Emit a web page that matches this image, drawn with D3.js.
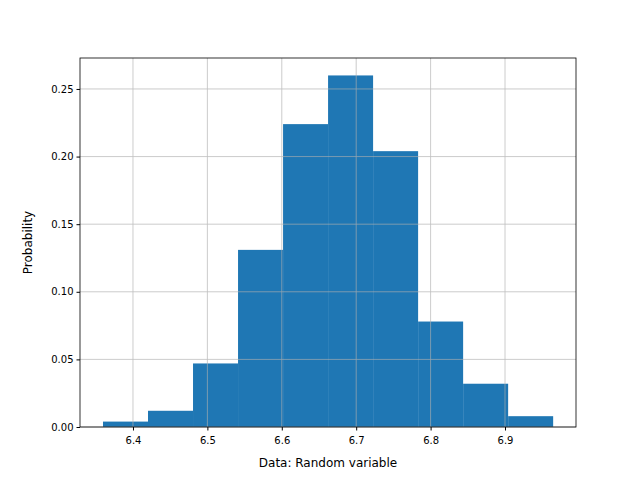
<!DOCTYPE html>
<html><head><meta charset="utf-8">
<script src="https://cdn.jsdelivr.net/npm/d3@7"></script>
<style>body{margin:0;background:#fff}text{font-family:"DejaVu Sans",sans-serif}</style>
</head><body>
<script>
// histogram data
const binStart = 6.3597;
const binWidth = 0.0605;
const probs = [0.004, 0.012, 0.047, 0.131, 0.224, 0.260, 0.204, 0.078, 0.032, 0.008];
const xTicks = [6.4, 6.5, 6.6, 6.7, 6.8, 6.9];
const yTicks = [0, 0.05, 0.10, 0.15, 0.20, 0.25];

const W = 640, H = 480;
const m = {l: 80, r: 576, t: 58, b: 427};

const svg = d3.select("body").append("svg").attr("width", W).attr("height", H);
const x = d3.scaleLinear().domain([6.3288, 6.9954]).range([m.l, m.r]);
const y = d3.scaleLinear().domain([0, 0.2729]).range([m.b, m.t]);

svg.append("g").selectAll("rect").data(probs).enter().append("rect")
	.attr("x", (d, i) => x(binStart + i * binWidth))
	.attr("width", (d, i) => x(binStart + (i + 1) * binWidth) - x(binStart + i * binWidth))
	.attr("y", d => y(d))
	.attr("height", d => y(0) - y(d))
	.attr("fill", "#1f77b4");

// grid on top
const grid = svg.append("g").attr("stroke", "#b0b0b0").attr("stroke-width", 0.8).attr("opacity", 0.8);
xTicks.forEach(t => grid.append("line").attr("x1", x(t)).attr("x2", x(t)).attr("y1", m.t).attr("y2", m.b));
yTicks.forEach(t => grid.append("line").attr("x1", m.l).attr("x2", m.r).attr("y1", y(t)).attr("y2", y(t)));

svg.append("g").attr("transform", `translate(0,${m.b})`)
	.call(d3.axisBottom(x).tickValues(xTicks).tickFormat(d3.format(".1f")).tickSize(3.5).tickSizeOuter(0))
	.call(g => g.select(".domain").remove())
	.selectAll("text").attr("font-size", 10).attr("fill", "#000").attr("dy", "1em");
svg.append("g").attr("transform", `translate(${m.l},0)`)
	.call(d3.axisLeft(y).tickValues(yTicks).tickFormat(d3.format(".2f")).tickSize(3.5).tickSizeOuter(0))
	.call(g => g.select(".domain").remove())
	.selectAll("text").attr("font-size", 10).attr("fill", "#000");

svg.append("rect").attr("x", m.l).attr("y", m.t).attr("width", m.r - m.l).attr("height", m.b - m.t)
	.attr("fill", "none").attr("stroke", "#000").attr("stroke-width", 0.8);

svg.append("text").attr("x", (m.l + m.r) / 2).attr("y", 467).attr("text-anchor", "middle")
	.attr("font-size", 12).text("Data: Random variable");
svg.append("text").attr("transform", `translate(32,${(m.t + m.b) / 2}) rotate(-90)`).attr("text-anchor", "middle")
	.attr("font-size", 12).text("Probability");
</script>
</body></html>
